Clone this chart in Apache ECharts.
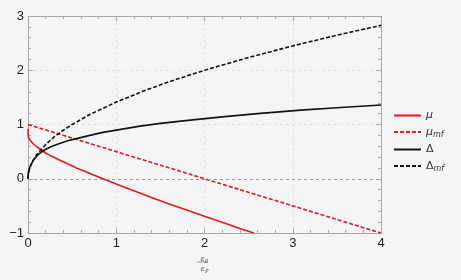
<!DOCTYPE html>
<html>
<head>
<meta charset="utf-8">
<script src="https://cdn.jsdelivr.net/npm/echarts@6/dist/echarts.min.js"></script>
<style>html,body{margin:0;padding:0;background:#f5f5f5;}#c{width:461px;height:280px;}</style>
</head>
<body>
<div id="c"></div>
<script>
// Data
var xTicks = [0, 1, 2, 3, 4];
var yTicks = [-1, 0, 1, 2, 3];
var seriesNames = ['μ', 'μmf', 'Δ', 'Δmf'];

var muData = [[0,0.92],[0.001,0.83],[0.004,0.78],[0.01,0.745],[0.02,0.715],[0.035,0.69],[0.06,0.645],[0.1,0.59],[0.15,0.53],[0.2,0.475],[0.25,0.43],[0.3,0.39],[0.35,0.35],[0.45,0.275],[0.55,0.2],[0.65,0.135],[0.75,0.065],[0.85,0],[1.0,-0.095],[1.2,-0.22],[1.4,-0.345],[1.6,-0.465],[1.84,-0.60],[2.0,-0.69],[2.2,-0.80],[2.4,-0.915],[2.56,-1.0]];
var muMfData = [[0,1],[1,0.5],[2,0],[3,-0.5],[4,-1]];
var deltaData = [[0,0],[0.002,0.08],[0.006,0.14],[0.015,0.19],[0.034,0.26],[0.06,0.34],[0.11,0.44],[0.185,0.53],[0.26,0.59],[0.35,0.645],[0.45,0.70],[0.55,0.74],[0.7,0.80],[0.85,0.855],[1.05,0.91],[1.27,0.97],[1.5,1.02],[1.84,1.08],[2.2,1.14],[2.6,1.20],[3.09,1.265],[3.5,1.31],[4.0,1.36]];
var deltaMfData = [[0,0],[0.005,0.1],[0.02,0.2],[0.05,0.316],[0.1,0.447],[0.2,0.632],[0.3,0.775],[0.4,0.894],[0.5,1.0],[0.7,1.183],[1,1.414],[1.3,1.612],[1.6,1.789],[2,2.0],[2.5,2.236],[3,2.449],[3.5,2.646],[4,2.828]];

var RED = '#e3191d', BLACK = '#141414', AX = '#a8a8a8';
var chart = echarts.init(document.getElementById('c'), null, {renderer:'canvas'});

function axisCommon(showLabels, isY) {
  return {
    type: 'value',
    min: isY ? yTicks[0] : xTicks[0],
    max: isY ? yTicks[yTicks.length-1] : xTicks[xTicks.length-1],
    interval: 1,
    axisLine: {show: true, onZero: false, lineStyle: {color: AX, width: 1}},
    axisTick: {show: true, inside: true, length: 5, lineStyle: {color: AX}},
    minorTick: {show: true, splitNumber: 5, length: 3, lineStyle: {color: AX}},
    axisLabel: {show: showLabels, color: '#1e1e1e', fontSize: 13, fontFamily: 'Liberation Sans', margin: 4,
      formatter: function (v) { return v < 0 ? '\u2212' + Math.abs(v) : String(v); }},
    splitLine: {show: showLabels, lineStyle: {color: '#e2e2e2', type: [3, 3], width: 1}}
  };
}

var xMain = axisCommon(true, false);
xMain.position = 'bottom';
xMain.name = '{n|ε}{ns|B}\n{d|ε}{ds|F}';
xMain.nameLocation = 'middle';
xMain.nameGap = 21;
xMain.nameTextStyle = {
  rich: {
    n: {fontSize: 8, color: '#444', fontFamily: 'DejaVu Serif', fontStyle: 'italic', lineHeight: 10},
    ns: {fontSize: 5, color: '#444', fontFamily: 'DejaVu Serif', fontStyle: 'italic', verticalAlign: 'bottom', lineHeight: 10},
    d: {fontSize: 8, color: '#444', fontFamily: 'DejaVu Serif', fontStyle: 'italic', lineHeight: 10},
    ds: {fontSize: 5, color: '#444', fontFamily: 'DejaVu Serif', fontStyle: 'italic', verticalAlign: 'bottom', lineHeight: 10}
  }
};
var xTop = axisCommon(false, false);
xTop.position = 'top';
var yMain = axisCommon(true, true);
yMain.position = 'left';
var yRight = axisCommon(false, true);
yRight.position = 'right';

function lineSeries(name, data, color, dashed) {
  return {
    name: name, type: 'line', data: data, showSymbol: false, symbol: 'none',
    xAxisIndex: 0, yAxisIndex: 0, clip: true, z: 3,
    lineStyle: {color: color, width: 1.6, type: dashed ? [4, 2] : 'solid'},
    itemStyle: {color: color},
    emphasis: {disabled: true}, animation: false
  };
}

var s0 = lineSeries(seriesNames[0], muData, RED, false);
s0.markLine = {
  silent: true, symbol: 'none', animation: false,
  label: {show: false},
  lineStyle: {color: '#9a9a9a', type: [3, 3], width: 1},
  data: [{yAxis: 0}]
};

var option = {
  backgroundColor: '#f5f5f5',
  animation: false,
  grid: {left: 28, right: 80, top: 16, bottom: 47, containLabel: false},
  xAxis: [xMain, xTop],
  yAxis: [yMain, yRight],
  legend: {
    orient: 'vertical', left: 393, top: 110, padding: 0,
    itemWidth: 27, itemHeight: 10, itemGap: 5.5,
    itemStyle: {opacity: 0, borderWidth: 0},
    data: seriesNames,
    textStyle: {color: '#333', fontSize: 11, fontFamily: 'DejaVu Sans',
      rich: {
        i: {fontSize: 11, fontStyle: 'italic', color: '#333', fontFamily: 'DejaVu Sans'},
        u: {fontSize: 11, color: '#333', fontFamily: 'DejaVu Sans'},
        s: {fontSize: 8, fontStyle: 'italic', color: '#333', verticalAlign: 'bottom', padding: [5, 0, 0, 0], fontFamily: 'DejaVu Sans'}
      }},
    formatter: function (n) {
      if (n === 'μ') return '{i|μ}';
      if (n === 'μmf') return '{i|μ}{s|mf}';
      if (n === 'Δ') return '{u|Δ}';
      return '{u|Δ}{s|mf}';
    }
  },
  graphic: [{
    type: 'line', shape: {x1: 197, y1: 262, x2: 207, y2: 262},
    style: {stroke: '#555', lineWidth: 0.6}, silent: true
  }],
  series: [
    s0,
    lineSeries(seriesNames[1], muMfData, RED, true),
    lineSeries(seriesNames[2], deltaData, BLACK, false),
    lineSeries(seriesNames[3], deltaMfData, BLACK, true)
  ]
};
chart.setOption(option);
</script>
</body>
</html>
